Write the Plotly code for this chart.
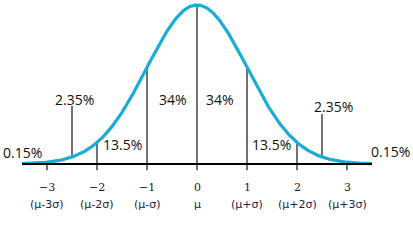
import numpy as np
import plotly.graph_objects as go

# ---- data ----
sigma_ticks = [-3, -2, -1, 0, 1, 2, 3]
tick_numbers = ["\u22123", "\u22122", "\u22121", "0", "1", "2", "3"]
tick_names = ["(\u03bc-3\u03c3)", "(\u03bc-2\u03c3)", "(\u03bc-\u03c3)", "\u03bc",
              "(\u03bc+\u03c3)", "(\u03bc+2\u03c3)", "(\u03bc+3\u03c3)"]
divider_x = [-2, -1, 0, 1, 2]
leader_x = [-2.5, 2.5]
leader_top = [0.1455, 0.1254]
pct_text = ["0.15%", "2.35%", "13.5%", "34%", "34%", "13.5%", "2.35%", "0.15%"]
pct_x = [-3.5, -2.45, -1.5, -0.48, 0.46, 1.48, 2.72, 3.86]
pct_y = [0.029, 0.162, 0.048, 0.162, 0.162, 0.048, 0.143, 0.031]

x_min, x_max = -3.5, 3.5

def pdf(x):
    return np.exp(-0.5 * np.asarray(x) ** 2) / np.sqrt(2 * np.pi)

xs = np.linspace(x_min, x_max, 701)

fig = go.Figure()

GRAY = "#6f7375"
tick_len = 0.016

for xv in divider_x:
    fig.add_trace(go.Scatter(x=[xv, xv], y=[-tick_len, float(pdf(xv))], mode="lines",
                             line=dict(color=GRAY, width=2), hoverinfo="skip", showlegend=False))
for xv in [sigma_ticks[0], sigma_ticks[-1]]:
    fig.add_trace(go.Scatter(x=[xv, xv], y=[-tick_len, 0], mode="lines",
                             line=dict(color=GRAY, width=2), hoverinfo="skip", showlegend=False))
for xv, top in zip(leader_x, leader_top):
    fig.add_trace(go.Scatter(x=[xv, xv], y=[float(pdf(xv)), top], mode="lines",
                             line=dict(color=GRAY, width=2), hoverinfo="skip", showlegend=False))

fig.add_trace(go.Scatter(x=xs, y=pdf(xs), mode="lines",
                         line=dict(color="#18acd6", width=3.2), hoverinfo="skip", showlegend=False))
fig.add_trace(go.Scatter(x=[x_min, x_max], y=[0, 0], mode="lines",
                         line=dict(color="black", width=2), hoverinfo="skip", showlegend=False))

annotations = []
for xv, num, name in zip(sigma_ticks, tick_numbers, tick_names):
    annotations.append(dict(x=xv, y=-0.058, text=num, showarrow=False,
                            font=dict(family="DejaVu Serif", size=11, color="#222222")))
    annotations.append(dict(x=xv, y=-0.101, text=name, showarrow=False,
                            font=dict(family="DejaVu Sans", size=11, color="#1c2340")))
for t, xv, yv in zip(pct_text, pct_x, pct_y):
    annotations.append(dict(x=xv, y=yv, text=t, showarrow=False,
                            font=dict(family="Open Sans", size=14, color="#111111")))

fig.update_layout(
    width=413, height=244,
    margin=dict(l=0, r=0, t=0, b=0),
    paper_bgcolor="white", plot_bgcolor="white",
    xaxis=dict(range=[-3.94, 4.32], visible=False, fixedrange=True),
    yaxis=dict(range=[-0.2007, 0.4114], visible=False, fixedrange=True),
    annotations=annotations,
    showlegend=False,
)

fig.write_html("out.html")
